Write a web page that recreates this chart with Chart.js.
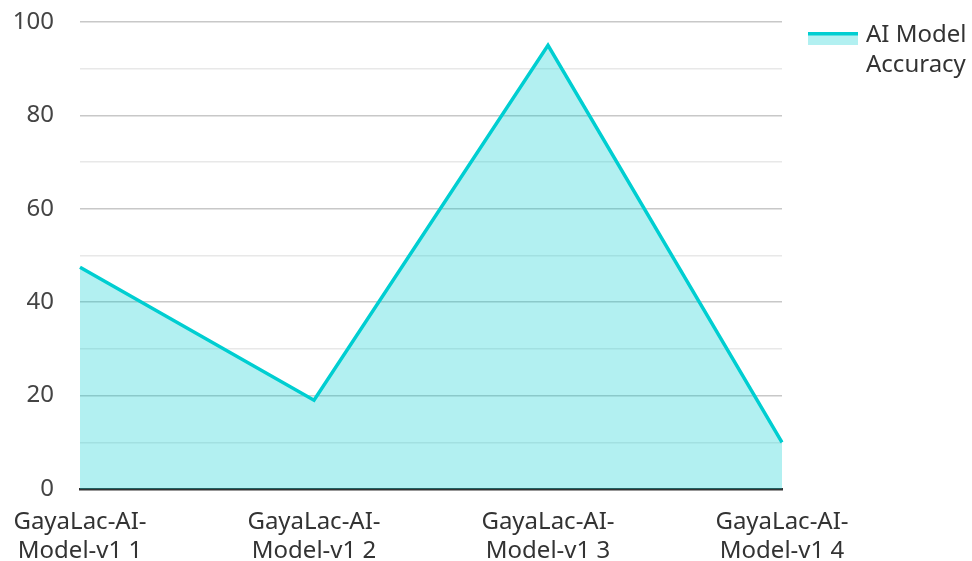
<!DOCTYPE html>
<html>
<head>
<meta charset="utf-8">
<script src="https://cdn.jsdelivr.net/npm/chart.js@4/dist/chart.umd.min.js"></script>
<style>
  html, body { margin: 0; padding: 0; background: #fff; }
  #wrap { width: 972px; height: 561px; position: relative; }
</style>
</head>
<body>
<div id="wrap"><canvas id="c"></canvas></div>
<script>
const categories = ['GayaLac-AI-Model-v1 1', 'GayaLac-AI-Model-v1 2', 'GayaLac-AI-Model-v1 3', 'GayaLac-AI-Model-v1 4'];
const seriesName = 'AI Model Accuracy';
const accuracy = [47.5, 19, 95, 10];
const yTicks = [0, 20, 40, 60, 80, 100];

const lineColor = 'rgb(0,206,209)';
const fillColor = 'rgba(0,206,209,0.3)';
const FONT = '"Noto Sans", "Open Sans", sans-serif';

function wrapCategory(s) {
  const i = s.indexOf('AI-');
  return i >= 0 ? [s.slice(0, i + 3), s.slice(i + 3)] : s;
}

const legendPlugin = {
  id: 'customLegend',
  afterDraw(chart) {
    const ctx = chart.ctx;
    const x = 808, y = 32, w = 50, h = 13;
    ctx.save();
    ctx.fillStyle = fillColor;
    ctx.fillRect(x, y, w, h);
    ctx.fillStyle = lineColor;
    ctx.fillRect(x, y, w, 3.5);
    ctx.fillStyle = '#333';
    ctx.font = '24px ' + FONT;
    ctx.textBaseline = 'middle';
    ctx.textAlign = 'left';
    const words = seriesName.split(' ');
    const lines = [words.slice(0, 2).join(' '), words.slice(2).join(' ')];
    lines.forEach((t, k) => ctx.fillText(t, 866, 35 + k * 30));
    ctx.restore();
  }
};

new Chart(document.getElementById('c'), {
  type: 'line',
  data: {
    labels: categories.map(wrapCategory),
    datasets: [{
      label: seriesName,
      data: accuracy,
      borderColor: lineColor,
      backgroundColor: fillColor,
      borderWidth: 3.5,
      fill: 'origin',
      pointRadius: 0,
      pointHoverRadius: 0,
      tension: 0
    }]
  },
  options: {
    responsive: true,
    maintainAspectRatio: false,
    animation: false,
    layout: { padding: { left: 14, right: 190, top: 22, bottom: 0 } },
    plugins: {
      legend: { display: false },
      tooltip: { enabled: false }
    },
    scales: {
      x: {
        offset: false,
        grid: { display: false, drawTicks: false },
        border: { display: true, color: '#333', width: 2.5 },
        ticks: {
          color: '#333',
          font: { family: FONT, size: 24 },
          padding: 19,
          maxRotation: 0,
          autoSkip: false
        },
        afterFit(s) { s.height = 72; s.paddingLeft = 0; s.paddingRight = 0; }
      },
      y: {
        min: 0,
        max: 100,
        border: { display: false },
        grid: {
          drawTicks: false,
          color: (c) => (c.tick && yTicks.includes(c.tick.value)) ? '#c8c8c8' : '#e8e8e8',
          lineWidth: 1.5
        },
        ticks: {
          stepSize: 10,
          color: '#444',
          font: { family: FONT, size: 24 },
          padding: 26,
          callback: (v) => yTicks.includes(v) ? v : ''
        },
        afterFit(s) { s.width = 66; s.paddingTop = 0; s.paddingBottom = 0; }
      }
    }
  },
  plugins: [legendPlugin]
});
</script>
</body>
</html>
